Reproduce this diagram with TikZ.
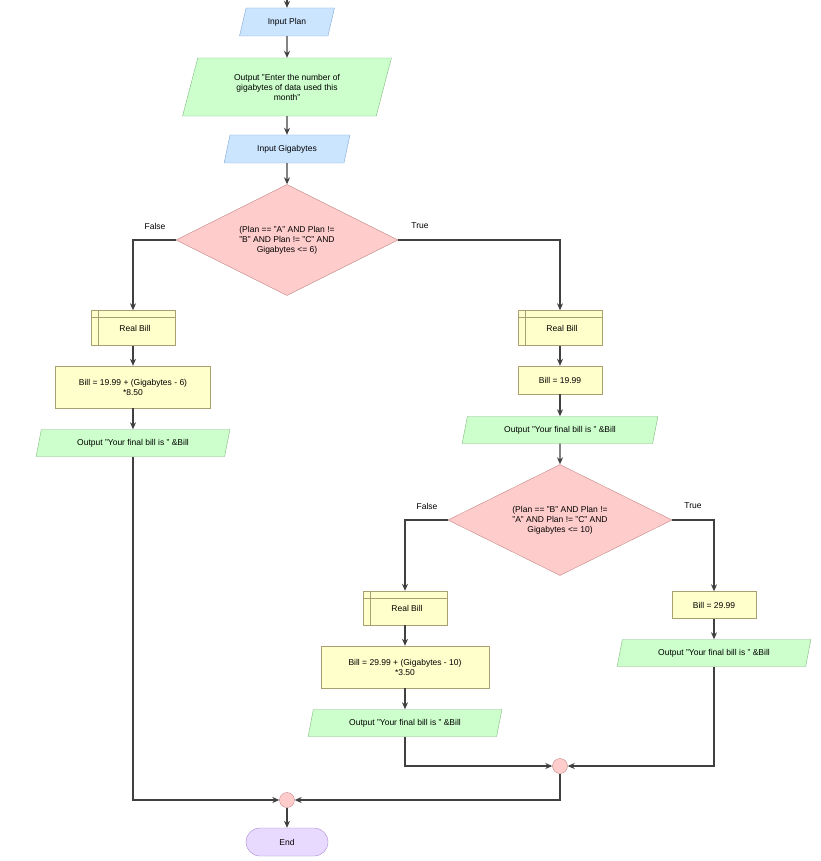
\documentclass[tikz,border=0pt]{standalone}
\usepackage{fontspec}
\setmainfont{Liberation Sans}
\usetikzlibrary{shapes.geometric,arrows.meta}
\definecolor{bF}{HTML}{CCE5FF}\definecolor{bD}{HTML}{7FA7D6}
\definecolor{gF}{HTML}{CCFFCC}\definecolor{gD}{HTML}{80B880}
\definecolor{pF}{HTML}{FFCCCC}\definecolor{pD}{HTML}{C08888}
\definecolor{yF}{HTML}{FFFFCC}\definecolor{yD}{HTML}{A8A070}
\definecolor{vF}{HTML}{E8DAFF}\definecolor{vD}{HTML}{A888D0}
\definecolor{ln}{HTML}{404040}
\begin{document}
\begin{tikzpicture}[x=1pt,y=-1pt,
 every node/.style={font=\fontsize{8.5}{10}\selectfont,align=center,inner sep=1pt},
 io/.style={trapezium,trapezium left angle=72,trapezium right angle=108,trapezium stretches=true,draw=#1D,fill=#1F},
 proc/.style={rectangle,draw=yD,fill=yF},
 pre/.style={proc,path picture={\draw[yD] ([xshift=7pt]path picture bounding box.north west)--([xshift=7pt]path picture bounding box.south west);
   \draw[yD] ([yshift=-7pt]path picture bounding box.north west)--([yshift=-7pt]path picture bounding box.north east);}},
 dec/.style={diamond,aspect=2,draw=pD,fill=pF,inner sep=0pt},
 mrg/.style={circle,draw=pD,fill=pF,minimum size=15pt,inner sep=0pt},
 lab/.style={font=\fontsize{8.5}{10}\selectfont},
 ar/.style={draw=ln,line width=1.2pt,-{Stealth[length=7pt,width=6pt]}}]
\useasboundingbox (0,0) rectangle (820,861);
\coordinate (top) at (287,0);
\node[io=b,minimum width=95pt,minimum height=28pt] (ip) at (287,22) {Input Plan};
\node[io=g,minimum width=209pt,minimum height=58pt] (o1) at (287,87) {Output "Enter the number of\\gigabytes of data used this\\month"};
\node[io=b,minimum width=126pt,minimum height=28pt] (ig) at (287,149) {Input Gigabytes};
\node[dec,minimum width=222pt,minimum height=111pt] (d1) at (287,240) {(Plan == "A" AND Plan !=\\"B" AND Plan != "C" AND\\Gigabytes <= 6)};
\node[lab] at (155,226) {False};
\node[lab] at (420,226) {True};
\node[pre,minimum width=84pt,minimum height=35pt] (rb1) at (133,328) {\hspace*{4pt}Real Bill};
\node[proc,minimum width=155pt,minimum height=42pt] (b1) at (133,387) {Bill = 19.99 + (Gigabytes - 6)\\*8.50};
\node[io=g,minimum width=194pt,minimum height=27pt] (ol) at (133,443) {Output "Your final bill is " \&Bill};
\node[pre,minimum width=84pt,minimum height=35pt] (rb2) at (560,328) {\hspace*{4pt}Real Bill};
\node[proc,minimum width=84pt,minimum height=28pt] (b2) at (560,380) {Bill = 19.99};
\node[io=g,minimum width=196pt,minimum height=27pt] (or) at (560,430) {Output "Your final bill is " \&Bill};
\node[dec,minimum width=224pt,minimum height=111pt] (d2) at (560,520) {(Plan == "B" AND Plan !=\\"A" AND Plan != "C" AND\\Gigabytes <= 10)};
\node[lab] at (427,506) {False};
\node[lab] at (693,506) {True};
\node[pre,minimum width=84pt,minimum height=34pt] (rb3) at (405,608) {\hspace*{4pt}Real Bill};
\node[proc,minimum width=168pt,minimum height=42pt] (b3) at (405,667) {Bill = 29.99 + (Gigabytes - 10)\\*3.50};
\node[io=g,minimum width=194pt,minimum height=27pt] (o3) at (405,723) {Output "Your final bill is " \&Bill};
\node[proc,minimum width=84pt,minimum height=27pt] (b4) at (714,605) {Bill = 29.99};
\node[io=g,minimum width=194pt,minimum height=27pt] (o4) at (714,653) {Output "Your final bill is " \&Bill};
\node[mrg] (m2) at (560,766) {};
\node[mrg] (m1) at (287,800) {};
\node[rounded corners=14pt,draw=vD,fill=vF,minimum width=82pt,minimum height=28pt] (end) at (287,842) {End};
\draw[ar] (top)--(ip);
\draw[ar] (ip)--(o1);
\draw[ar] (o1)--(ig);
\draw[ar] (ig)--(d1);
\draw[ar] (d1.west)-|(rb1);
\draw[ar] (d1.east)-|(rb2);
\draw[ar] (rb1)--(b1);
\draw[ar] (b1)--(ol);
\draw[ar] (rb2)--(b2);
\draw[ar] (b2)--(or);
\draw[ar] (or)--(d2);
\draw[ar] (d2.west)-|(rb3);
\draw[ar] (d2.east)-|(b4);
\draw[ar] (rb3)--(b3);
\draw[ar] (b3)--(o3);
\draw[ar] (b4)--(o4);
\draw[ar] (o3.south)|-(m2);
\draw[ar] (o4.south)|-(m2);
\draw[ar] (ol.south)|-(m1);
\draw[ar] (m2)|-(m1);
\draw[ar] (m1)--(end);
\end{tikzpicture}
\end{document}
